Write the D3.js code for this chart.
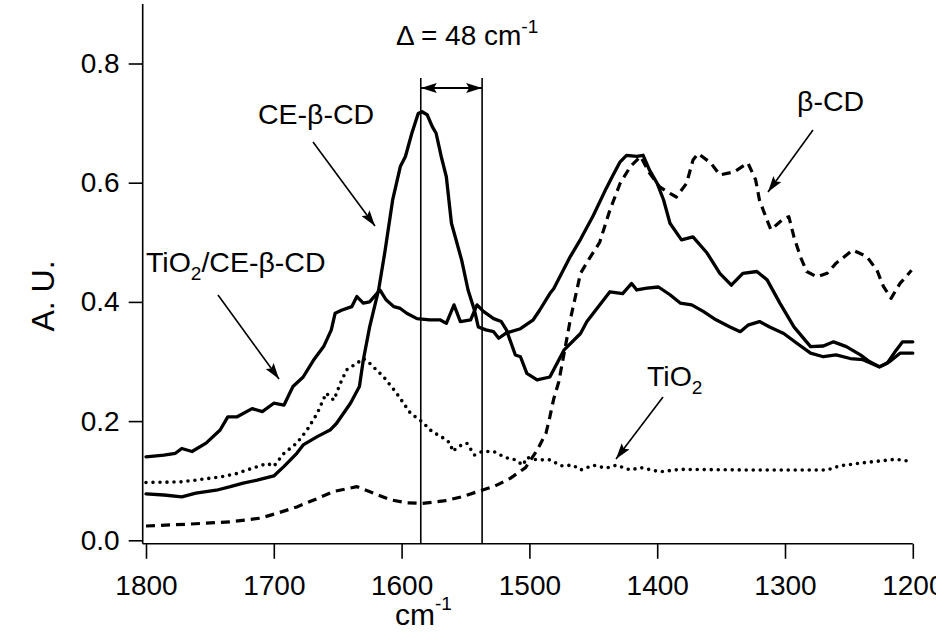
<!DOCTYPE html>
<html>
<head>
<meta charset="utf-8">
<script src="https://cdn.jsdelivr.net/npm/d3@7"></script>
<style>
    body { margin: 0; background: #fff; }
    svg { display: block; font-family: "Liberation Sans", Arial, Helvetica, sans-serif; }
</style>
</head>
<body>
<svg id="chart" width="936" height="634"></svg>
<script>
// wavenumber (cm-1) / absorbance (A. U.)
const xTicks = [1800, 1700, 1600, 1500, 1400, 1300, 1200];
const yTicks = [0.0, 0.2, 0.4, 0.6, 0.8];

const tio2ceCd = [
    [1800,0.140],[1786,0.143],[1777,0.146],[1772,0.154],[1764,0.149],[1753,0.163],[1742,0.185],
    [1736,0.207],[1729,0.207],[1717,0.221],[1709,0.216],[1700,0.230],[1692,0.227],[1685,0.258],
    [1677,0.274],[1669,0.302],[1661,0.325],[1655,0.353],[1652,0.381],[1647,0.386],[1639,0.392],
    [1635,0.409],[1630,0.398],[1625,0.400],[1617,0.420],[1612,0.403],[1606,0.392],[1601,0.389],
    [1596,0.381],[1588,0.372],[1578,0.370],[1570,0.370],[1565,0.364],[1559,0.395],[1554,0.367],
    [1546,0.370],[1541,0.395],[1536,0.384],[1528,0.372],[1522,0.367],[1518,0.353],[1511,0.311],
    [1507,0.308],[1502,0.280],[1494,0.269],[1484,0.274],[1473,0.319],[1460,0.347],[1455,0.367],
    [1450,0.381],[1437,0.417],[1427,0.414],[1420,0.431],[1416,0.420],[1408,0.423],[1399,0.425],
    [1390,0.412],[1382,0.398],[1373,0.395],[1364,0.384],[1354,0.370],[1343,0.358],[1335,0.350],
    [1329,0.361],[1320,0.367],[1312,0.358],[1301,0.347],[1291,0.331],[1280,0.314],[1270,0.308],
    [1260,0.311],[1249,0.305],[1239,0.303],[1226,0.291],[1218,0.300],[1210,0.314],[1200,0.314]
];

const ceCd = [
    [1800,0.078],[1786,0.076],[1772,0.073],[1761,0.079],[1745,0.084],[1734,0.090],[1724,0.096],
    [1713,0.101],[1700,0.108],[1692,0.124],[1682,0.146],[1677,0.160],[1666,0.174],[1656,0.185],
    [1651,0.196],[1640,0.230],[1633,0.258],[1630,0.302],[1625,0.358],[1618,0.420],[1613,0.485],
    [1607,0.571],[1601,0.627],[1597,0.644],[1592,0.683],[1587,0.716],[1584,0.719],[1580,0.714],
    [1576,0.694],[1573,0.683],[1569,0.644],[1565,0.610],[1561,0.532],[1558,0.509],[1553,0.470],
    [1548,0.420],[1543,0.386],[1540,0.358],[1534,0.353],[1528,0.350],[1524,0.339],[1518,0.348],
    [1507,0.355],[1497,0.370],[1492,0.386],[1484,0.414],[1481,0.422],[1468,0.476],[1460,0.505],
    [1450,0.545],[1440,0.590],[1434,0.615],[1429,0.635],[1424,0.646],[1416,0.644],[1411,0.646],
    [1406,0.621],[1400,0.599],[1395,0.571],[1390,0.532],[1381,0.504],[1372,0.509],[1361,0.482],
    [1351,0.448],[1342,0.428],[1333,0.448],[1322,0.451],[1314,0.437],[1304,0.398],[1293,0.358],
    [1280,0.325],[1270,0.326],[1262,0.333],[1252,0.325],[1241,0.311],[1234,0.300],[1226,0.291],
    [1220,0.297],[1213,0.319],[1208,0.333],[1200,0.333]
];

const bCd = [
    [1800,0.024],[1768,0.027],[1734,0.031],[1711,0.037],[1698,0.045],[1682,0.056],[1666,0.070],
    [1653,0.082],[1635,0.090],[1622,0.079],[1609,0.068],[1596,0.063],[1584,0.062],[1567,0.066],
    [1553,0.073],[1540,0.082],[1527,0.091],[1515,0.104],[1503,0.122],[1494,0.151],[1487,0.180],
    [1484,0.207],[1481,0.237],[1477,0.266],[1475,0.289],[1471,0.335],[1468,0.370],[1464,0.409],
    [1460,0.448],[1453,0.473],[1445,0.500],[1437,0.554],[1429,0.599],[1421,0.627],[1413,0.644],
    [1406,0.616],[1398,0.593],[1390,0.582],[1385,0.576],[1377,0.599],[1372,0.638],[1368,0.649],
    [1358,0.633],[1351,0.613],[1340,0.618],[1329,0.633],[1323,0.605],[1320,0.571],[1314,0.537],
    [1311,0.521],[1301,0.540],[1297,0.543],[1293,0.509],[1288,0.476],[1283,0.451],[1275,0.442],
    [1267,0.448],[1260,0.465],[1247,0.487],[1236,0.476],[1228,0.453],[1223,0.426],[1217,0.406],
    [1210,0.431],[1201,0.453]
];

const tio2 = [
    [1800,0.097],[1773,0.098],[1761,0.101],[1740,0.107],[1729,0.112],[1721,0.118],[1705,0.129],
    [1700,0.124],[1692,0.146],[1682,0.163],[1674,0.185],[1666,0.213],[1659,0.247],[1653,0.235],
    [1648,0.263],[1643,0.286],[1635,0.297],[1630,0.305],[1625,0.297],[1614,0.274],[1604,0.247],
    [1593,0.213],[1584,0.199],[1576,0.182],[1569,0.174],[1562,0.163],[1560,0.149],[1556,0.157],
    [1549,0.163],[1543,0.143],[1537,0.149],[1528,0.149],[1519,0.139],[1511,0.135],[1505,0.126],
    [1502,0.139],[1494,0.135],[1484,0.135],[1475,0.125],[1466,0.126],[1460,0.118],[1450,0.126],
    [1440,0.121],[1432,0.126],[1421,0.118],[1413,0.122],[1398,0.115],[1382,0.119],[1330,0.118],
    [1267,0.118],[1257,0.125],[1239,0.130],[1213,0.136],[1201,0.132]
];

// band positions marked by the two vertical lines (shift of 48 cm-1)
const shiftLines = [1585, 1537];

const svg = d3.select('#chart');
const x = d3.scaleLinear().domain([1800, 1200]).range([146, 912.8]);
const y = d3.scaleLinear().domain([0, 0.9]).range([540.3, 3.9]);
const axisLeftX = 142.7;
const axisBottomY = 543.8;

// arrow heads
const defs = svg.append('defs');
defs.append('marker')
    .attr('id', 'head')
    .attr('viewBox', '0 0 16 10')
    .attr('refX', 16).attr('refY', 5)
    .attr('markerUnits', 'userSpaceOnUse')
    .attr('markerWidth', 16).attr('markerHeight', 10)
    .attr('orient', 'auto-start-reverse')
    .append('path')
    .attr('d', 'M0,0 L16,5 L0,10 L3,5 Z')
    .attr('fill', '#000');

// axes
const yAxis = svg.append('g')
    .attr('transform', `translate(${axisLeftX},0)`)
    .call(d3.axisLeft(y).tickValues(yTicks).tickFormat(d3.format('.1f')).tickSize(14).tickPadding(9));
yAxis.select('.domain').remove();

const xAxis = svg.append('g')
    .attr('transform', `translate(0,${axisBottomY})`)
    .call(d3.axisBottom(x).tickValues(xTicks).tickFormat(d3.format('d')).tickSize(15).tickPadding(16));
xAxis.select('.domain').remove();

[yAxis, xAxis].forEach(g => {
    g.attr('font-family', null).attr('font-size', null);
    g.selectAll('line').attr('stroke', '#000').attr('stroke-width', 1.6);
    g.selectAll('text').attr('fill', '#000').style('font-size', '28px');
});

svg.append('line')
    .attr('x1', axisLeftX).attr('x2', axisLeftX)
    .attr('y1', y(0.9)).attr('y2', axisBottomY)
    .attr('stroke', '#000').attr('stroke-width', 1.6);
svg.append('line')
    .attr('x1', axisLeftX).attr('x2', x(1200))
    .attr('y1', axisBottomY).attr('y2', axisBottomY)
    .attr('stroke', '#000').attr('stroke-width', 1.6);

// axis titles
svg.append('text')
    .attr('transform', 'translate(54,296) rotate(-90)')
    .attr('text-anchor', 'middle')
    .style('font-size', '32px')
    .text('A. U.');

const xTitle = svg.append('text')
    .attr('x', 395).attr('y', 625)
    .style('font-size', '30px');
xTitle.append('tspan').text('cm');
xTitle.append('tspan').attr('dy', -15).style('font-size', '19px').text('-1');

// shift markers
svg.selectAll('.shift')
    .data(shiftLines)
    .enter()
    .append('line')
    .attr('class', 'shift')
    .attr('x1', d => x(d)).attr('x2', d => x(d))
    .attr('y1', 78).attr('y2', axisBottomY)
    .attr('stroke', '#000').attr('stroke-width', 1.6);

svg.append('line')
    .attr('x1', x(shiftLines[0])).attr('x2', x(shiftLines[1]))
    .attr('y1', 88).attr('y2', 88)
    .attr('stroke', '#000').attr('stroke-width', 2)
    .attr('marker-start', 'url(#head)')
    .attr('marker-end', 'url(#head)');

const delta = svg.append('text')
    .attr('x', 396).attr('y', 45)
    .style('font-size', '28px');
delta.append('tspan').text('\u0394 = 48 cm');
delta.append('tspan').attr('dy', -12).style('font-size', '19px').text('-1');

// spectra
const line = d3.line()
    .x(d => x(d[0]))
    .y(d => y(d[1]));

const series = [
    { data: tio2, dash: '0,7', cap: 'round', width: 3.6 },
    { data: bCd, dash: '9,6', cap: 'butt', width: 3.2 },
    { data: tio2ceCd, dash: null, cap: 'round', width: 3.3 },
    { data: ceCd, dash: null, cap: 'round', width: 3.3 }
];

svg.append('g')
    .selectAll('path')
    .data(series)
    .enter()
    .append('path')
    .attr('d', d => line(d.data))
    .attr('fill', 'none')
    .attr('stroke', '#000')
    .attr('stroke-width', d => d.width)
    .attr('stroke-linejoin', 'round')
    .attr('stroke-linecap', d => d.cap)
    .attr('stroke-dasharray', d => d.dash);

// labels with pointers
function label(xp, yp, parts) {
    const t = svg.append('text').attr('x', xp).attr('y', yp).style('font-size', '28.5px');
    parts.forEach(p => {
        if (p.sub) {
            t.append('tspan').attr('dy', 8).style('font-size', '19px').text(p.text);
        } else {
            t.append('tspan').attr('dy', p.after ? -8 : 0).text(p.text);
        }
    });
}

function pointer(x1, y1, x2, y2) {
    svg.append('line')
        .attr('x1', x1).attr('y1', y1)
        .attr('x2', x2).attr('y2', y2)
        .attr('stroke', '#000').attr('stroke-width', 1.6)
        .attr('marker-end', 'url(#head)');
}

label(258, 124, [{ text: 'CE-\u03b2-CD' }]);
pointer(313, 142, 375, 226);

label(146, 272, [{ text: 'TiO' }, { text: '2', sub: true }, { text: '/CE-\u03b2-CD', after: true }]);
pointer(218, 295, 279, 379);

label(797, 111, [{ text: '\u03b2-CD' }]);
pointer(813, 130, 768, 192);

label(647, 386, [{ text: 'TiO' }, { text: '2', sub: true }]);
pointer(663, 397, 616, 459);
</script>
</body>
</html>
